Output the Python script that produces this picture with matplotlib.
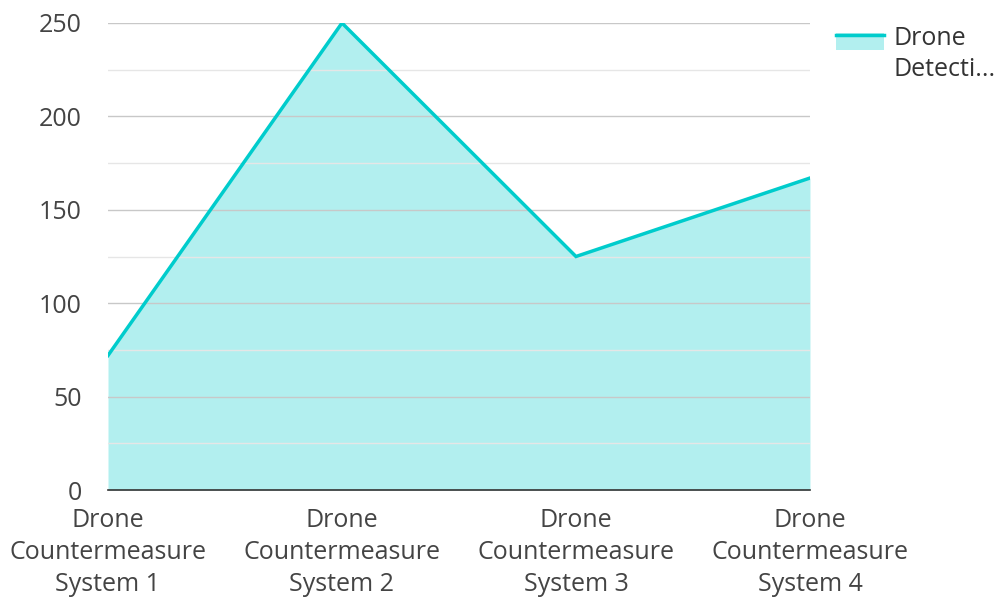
import matplotlib
matplotlib.use("Agg")
import matplotlib.pyplot as plt
from matplotlib.legend_handler import HandlerBase
from matplotlib.patches import Rectangle
from matplotlib.lines import Line2D

categories = ["Drone\nCountermeasure\nSystem 1", "Drone\nCountermeasure\nSystem 2",
              "Drone\nCountermeasure\nSystem 3", "Drone\nCountermeasure\nSystem 4"]
detection = [72, 250, 125, 167]
series_label = "Drone\nDetecti..."
yticks = [0, 50, 100, 150, 200, 250]

LINE = "#00cccc"
FILL = "#00cccc"
TEXT = "#444444"
FS = 18

plt.rcParams["font.family"] = ["Open Sans", "DejaVu Sans"]


class AreaHandler(HandlerBase):
    # light box with the line along its top edge, level with the first text line
    def create_artists(self, legend, orig, xd, yd, w, h, fontsize, trans):
        up = 0.64 * fontsize
        rect = Rectangle((xd, yd + up - 0.15 * h), w, h * 1.0, facecolor=FILL, alpha=0.3,
                         edgecolor="none", transform=trans)
        line = Line2D([xd, xd + w], [yd + up + 0.72 * h] * 2, color=LINE, lw=2.5,
                      transform=trans)
        return [rect, line]


fig = plt.figure(figsize=(9.97, 5.97), dpi=100)
ax = fig.add_axes([0.1083, 0.1792, 0.7041, 0.7823])

x = list(range(len(categories)))
ax.fill_between(x, detection, 0, color=FILL, alpha=0.3, lw=0, zorder=1)
ax.plot(x, detection, color=LINE, lw=2.5, zorder=3, solid_joinstyle="miter")

ax.set_xlim(0, len(categories) - 1)
ax.set_ylim(0, 250)
ax.set_yticks(yticks)
ax.set_yticks(range(25, 250, 50), minor=True)
ax.grid(axis="y", which="major", color="#c8c8c8", lw=1, zorder=2)
ax.grid(axis="y", which="minor", color="#e6e6e6", lw=1, zorder=2)
ax.set_axisbelow(False)

ax.set_xticks(x)
ax.set_xticklabels(categories, linespacing=1.36)
ax.tick_params(axis="both", which="both", length=0, labelsize=FS, labelcolor=TEXT)
ax.tick_params(axis="x", pad=13)
ax.tick_params(axis="y", pad=19)
for s in ["top", "right", "left"]:
    ax.spines[s].set_visible(False)
ax.spines["bottom"].set_color("#333333")
ax.spines["bottom"].set_linewidth(1.2)
ax.spines["bottom"].set_zorder(4)

ax.legend([object()], [series_label], handler_map={object: AreaHandler()},
          loc="upper left", bbox_to_anchor=(1.037, 0.993), frameon=False,
          fontsize=FS, labelcolor="#333333", handlelength=1.92, handletextpad=0.4,
          borderaxespad=0, borderpad=0)
leg_text = ax.get_legend().get_texts()[0]
leg_text.set_linespacing(1.3)

fig.savefig("out.png", dpi=100)
